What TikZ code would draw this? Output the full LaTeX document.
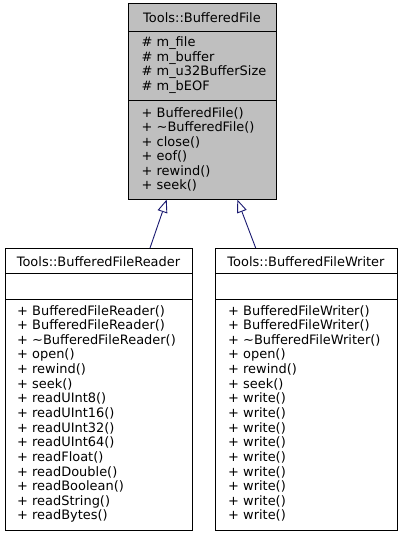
\documentclass[tikz,border=0pt]{standalone}
\usepackage{fontspec}
\setmainfont{DejaVu Sans}
\usetikzlibrary{arrows.meta}
\definecolor{boxgray}{HTML}{BFBFBF}
\definecolor{edgeblue}{HTML}{191970}
\begin{document}
\begin{tikzpicture}[x=1pt,y=-1pt,
  classbox/.style={draw=black, line width=0.9pt, rectangle, inner sep=0pt},
  sepline/.style={draw=black, line width=0.9pt},
  txt/.style={anchor=base west, inner sep=0pt, font=\fontsize{12.95}{14.6}\selectfont},
  ttl/.style={anchor=base, inner sep=0pt, font=\fontsize{12.95}{14.6}\selectfont},
  inherit/.style={draw=edgeblue, line width=0.9pt, -{Triangle[open,length=13pt,width=10pt]}}]
\useasboundingbox (0,0) rectangle (403,536);

% base class
\node[classbox, fill=boxgray, minimum width=148pt, minimum height=196pt] (base) at (202,101) {};
\draw[sepline] (128,31) -- (276,31);
\draw[sepline] (128,100) -- (276,100);
\node[ttl] (basetitle) at (202,22) {Tools::BufferedFile};
\foreach \t [count=\i from 0] in {\# m\_file, \# m\_buffer, \# m\_u32BufferSize, \# m\_bEOF}
  \node[txt] (ba\i) at (141.5,46.5+14.6*\i) {\t};
\foreach \t [count=\i from 0] in {+ BufferedFile(), + \textasciitilde BufferedFile(), + close(), + eof(), + rewind(), + seek()}
  \node[txt] (bm\i) at (141.5,117.3+14.5*\i) {\t};

% reader
\node[classbox, fill=white, minimum width=187pt, minimum height=282pt] (reader) at (98.5,389) {};
\draw[sepline] (5,273.3) -- (192,273.3);
\draw[sepline] (5,299.3) -- (192,299.3);
\node[ttl] (readertitle) at (98.5,266) {Tools::BufferedFileReader};
\foreach \t [count=\i from 0] in {+ BufferedFileReader(), + BufferedFileReader(), + \textasciitilde BufferedFileReader(), + open(), + rewind(), + seek(), + readUInt8(), + readUInt16(), + readUInt32(), + readUInt64(), + readFloat(), + readDouble(), + readBoolean(), + readString(), + readBytes()}
  \node[txt] (rm\i) at (17,315+14.64*\i) {\t};

% writer
\node[classbox, fill=white, minimum width=182pt, minimum height=282pt] (writer) at (306,389) {};
\draw[sepline] (215,273.3) -- (397,273.3);
\draw[sepline] (215,299.3) -- (397,299.3);
\node[ttl] (writertitle) at (306,266) {Tools::BufferedFileWriter};
\foreach \t [count=\i from 0] in {+ BufferedFileWriter(), + BufferedFileWriter(), + \textasciitilde BufferedFileWriter(), + open(), + rewind(), + seek(), + write(), + write(), + write(), + write(), + write(), + write(), + write(), + write(), + write()}
  \node[txt] (wm\i) at (228,315+14.64*\i) {\t};

% inheritance connectors
\coordinate (rtop) at (150,248);
\coordinate (wtop) at (255.7,248);
\coordinate (btipl) at (166.7,199.5);
\coordinate (btipr) at (237.3,199.5);
\draw[inherit] (rtop) -- (btipl);
\draw[inherit] (wtop) -- (btipr);
\end{tikzpicture}
\end{document}
